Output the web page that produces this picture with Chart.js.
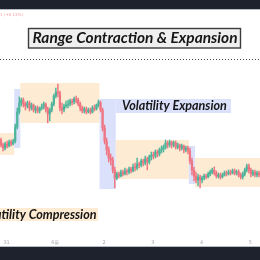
<!DOCTYPE html>
<html>
<head>
<meta charset="utf-8">
<script src="https://cdn.jsdelivr.net/npm/chart.js@4.4.1/dist/chart.umd.min.js"></script>
<style>
  html, body { margin: 0; padding: 0; background: #ffffff; }
  #priceChart { display: block; }
</style>
</head>
<body>
<canvas id="priceChart" width="260" height="260"></canvas>
<script>
// hourly candles (price units)
const opens = [
  100, 95, 92, 96, 94, 98, 96,
  99, 113, 128,
  137, 140, 136, 134, 137, 132, 135, 130, 132, 129, 132, 133, 136, 131, 126, 130, 136, 144, 148, 147,
  132, 130, 134, 135, 136, 139, 138, 141, 140, 136, 132, 129, 131, 128, 130, 128, 132, 131, 135,
  137, 130, 112, 99, 90, 82, 80, 70,
  62, 66, 64, 68, 66, 69, 68, 71, 69, 73, 72, 76, 75, 79, 77, 81, 78, 83, 85, 84,
  88, 86, 90, 91, 93, 97, 95, 98, 95, 97, 93, 95, 92, 94, 90, 92,
  89, 79, 70,
  64, 60, 63, 60, 62, 64, 63, 66, 68, 70, 67, 64, 65, 63, 65, 67, 66, 68, 67, 69,
  67, 68, 65, 63, 66, 70, 74, 70, 66, 68, 65, 67
];
const highs = [
  102, 97, 98, 99, 100, 100, 101,
  116, 132, 143,
  142, 142, 138, 139, 139, 137, 136, 134, 134, 133, 136, 138, 137, 133, 132, 138, 146, 152, 156, 149,
  137, 136, 139, 140, 141, 141, 143, 144, 142, 138, 134, 133, 133, 132, 132, 134, 135, 136, 140,
  139, 132, 115, 102, 93, 86, 83, 73,
  68, 68, 70, 70, 72, 71, 73, 73, 76, 77, 82, 78, 81, 81, 84, 83, 85, 88, 88, 90,
  90, 92, 94, 95, 100, 99, 100, 99, 99, 99, 97, 96, 96, 95, 94, 94,
  92, 82, 73,
  68, 66, 65, 64, 66, 66, 68, 70, 72, 73, 69, 67, 67, 67, 69, 69, 70, 70, 71, 71,
  70, 70, 67, 68, 72, 76, 76, 72, 70, 70, 69, 69
];
const lows = [
  93, 89, 90, 92, 93, 94, 95,
  97, 111, 126,
  134, 133, 130, 132, 129, 130, 128, 127, 127, 127, 130, 131, 128, 117, 119, 128, 134, 142, 143, 129,
  126, 128, 132, 132, 134, 135, 136, 137, 134, 129, 127, 127, 126, 127, 126, 127, 129, 130, 133,
  128, 109, 96, 85, 78, 75, 67, 52,
  60, 62, 63, 64, 65, 65, 66, 67, 68, 69, 70, 72, 73, 74, 75, 70, 76, 80, 81, 82,
  83, 84, 87, 88, 91, 92, 93, 92, 93, 91, 91, 89, 90, 87, 88, 86,
  76, 65, 59,
  57, 54, 52, 57, 60, 61, 62, 64, 66, 65, 62, 62, 61, 62, 64, 64, 65, 65, 66, 65,
  65, 63, 61, 61, 64, 68, 67, 63, 64, 63, 63, 63
];
const closes = [
  95, 92, 96, 94, 98, 96, 99,
  113, 128, 137,
  140, 136, 134, 137, 132, 135, 130, 132, 129, 132, 133, 136, 131, 126, 130, 136, 144, 148, 147, 132,
  130, 134, 135, 136, 139, 138, 141, 140, 136, 132, 129, 131, 128, 130, 128, 132, 131, 135, 138,
  130, 112, 99, 90, 82, 80, 70, 62,
  66, 64, 68, 66, 69, 68, 71, 69, 73, 72, 76, 75, 79, 77, 81, 78, 83, 85, 84, 88,
  86, 90, 91, 93, 97, 95, 98, 95, 97, 93, 95, 92, 94, 90, 92, 89,
  79, 70, 64,
  60, 63, 60, 62, 64, 63, 66, 68, 70, 67, 64, 65, 63, 65, 67, 66, 68, 67, 69, 67,
  68, 65, 63, 66, 70, 74, 70, 66, 68, 65, 67, 65
];

// date labels on the time axis
const tickIndex = [3, 27, 51, 75, 99, 123];
const tickText = ['31', '6월', '2', '3', '4', '5'];

// drawn rectangles: candle range and price range
const boxStart = [0, 7, 10, 49, 57, 93, 96];
const boxEnd = [6, 9, 48, 56, 92, 95, 127];
const boxLow = [85, 92, 117, 51, 61, 56, 53];
const boxHigh = [107, 151, 157, 141, 100, 94, 82];
const boxKind = ['range', 'move', 'range', 'move', 'range', 'move', 'range'];

const UP = '#4db59b';
const DOWN = '#ef7582';
const BOX_COLORS = { range: '#fdebd3', move: '#dbe1fb' };

/**
 * Fits a font size so the text spans the given width
 */
function fitFont(ctx, text, style, family, width) {
    ctx.font = style + ' 20px ' + family;
    const size = 20 * width / ctx.measureText(text).width;
    return style + ' ' + size.toFixed(2) + 'px ' + family;
}

const overlay = {
    id: 'overlay',
    beforeDraw(chart) {
        const ctx = chart.ctx;
        ctx.save();
        ctx.fillStyle = '#ffffff';
        ctx.fillRect(0, 0, chart.width, chart.height);
        ctx.restore();
    },
    beforeDatasetsDraw(chart) {
        const ctx = chart.ctx;
        const x = chart.scales.x;
        const y = chart.scales.y;
        const half = (x.getPixelForValue(1) - x.getPixelForValue(0)) / 2;
        ctx.save();
        for (let i = 0; i < boxStart.length; i++) {
            const left = x.getPixelForValue(boxStart[i]) - half;
            const right = x.getPixelForValue(boxEnd[i]) + half;
            const top = y.getPixelForValue(boxHigh[i]);
            const bottom = y.getPixelForValue(boxLow[i]);
            ctx.fillStyle = BOX_COLORS[boxKind[i]];
            ctx.fillRect(left, top, right - left, bottom - top);
        }
        ctx.restore();
    },
    afterDraw(chart) {
        const ctx = chart.ctx;
        const w = chart.width;
        const x = chart.scales.x;
        ctx.save();

        // date labels under the plot
        ctx.fillStyle = '#a6a9b0';
        ctx.font = '5px "DejaVu Sans"';
        ctx.textAlign = 'center';
        ctx.textBaseline = 'middle';
        tickIndex.forEach((idx, i) => {
            ctx.fillText(tickText[i], x.getPixelForValue(idx) - 0.5, 242.5);
        });

        // top toolbar
        ctx.fillStyle = '#1e222d';
        ctx.fillRect(0, 0, w, 9);
        ctx.fillStyle = '#b8bbc2';
        ctx.fillRect(0, 9, w, 1);

        // bottom toolbar
        ctx.fillStyle = '#b8bbc2';
        ctx.fillRect(0, 246, w, 1);
        ctx.fillStyle = '#1e222d';
        ctx.fillRect(0, 247, w, 13);

        // change readout
        ctx.fillStyle = '#f59aa3';
        ctx.font = '4px "DejaVu Sans"';
        ctx.textAlign = 'left';
        ctx.fillText('1 (+0.13%)', 0, 14.5);

        // title box
        ctx.fillStyle = '#efefef';
        ctx.fillRect(28.5, 28.5, 212, 19.5);
        ctx.strokeStyle = '#3c3c3c';
        ctx.lineWidth = 1.4;
        ctx.strokeRect(28.5, 28.5, 212, 19.5);
        ctx.fillStyle = '#161616';
        ctx.font = fitFont(ctx, 'Range Contraction & Expansion', 'italic bold', 'Lato', 205);
        ctx.textAlign = 'center';
        ctx.fillText('Range Contraction & Expansion', 135, 38.5);

        // dotted level line
        ctx.strokeStyle = '#4a4a4a';
        ctx.lineWidth = 1;
        ctx.setLineDash([1, 2]);
        ctx.beginPath();
        ctx.moveTo(0, 59.5);
        ctx.lineTo(w, 59.5);
        ctx.stroke();
        ctx.setLineDash([]);

        // annotation labels
        const labelFont = fitFont(ctx, 'Volatility Expansion', 'italic bold', 'Lato', 105);
        ctx.fillStyle = BOX_COLORS.move;
        ctx.fillRect(116, 99, 115, 14);
        ctx.fillStyle = BOX_COLORS.range;
        ctx.fillRect(0, 208, 98, 13);

        ctx.font = labelFont;
        ctx.fillStyle = '#161616';
        ctx.textAlign = 'left';
        ctx.fillText('Volatility Expansion', 122, 106);
        ctx.textAlign = 'right';
        ctx.fillText('Volatility Compression', 96.5, 214.5);

        ctx.restore();
    }
};

class PriceChart {
    constructor() {
        this.chart = null;
    }

    create() {
        const canvas = document.getElementById('priceChart');
        if (!canvas) return;

        const labels = opens.map(() => '');
        tickIndex.forEach((idx, i) => { labels[idx] = tickText[i]; });
        const candleColor = opens.map((o, i) => closes[i] >= o ? UP : DOWN);

        try {
            this.chart = new Chart(canvas, {
                type: 'bar',
                data: {
                    labels: labels,
                    datasets: [{
                        label: 'wick',
                        data: lows.map((l, i) => [l, highs[i]]),
                        backgroundColor: candleColor,
                        barThickness: 0.8,
                        grouped: false,
                        order: 2
                    }, {
                        label: 'body',
                        data: opens.map((o, i) => [o, closes[i]]),
                        backgroundColor: candleColor,
                        barThickness: 1.6,
                        grouped: false,
                        order: 1
                    }]
                },
                options: {
                    responsive: false,
                    animation: false,
                    layout: { padding: { top: 0, left: 0, right: 0, bottom: 23 } },
                    plugins: {
                        legend: { display: false },
                        tooltip: { enabled: false }
                    },
                    scales: {
                        x: { display: false },
                        y: {
                            display: false,
                            min: 3,
                            max: 240
                        }
                    }
                },
                plugins: [overlay]
            });
        } catch (error) {
            console.error('Error creating price chart:', error);
        }
    }
}

new PriceChart().create();
</script>
</body>
</html>
